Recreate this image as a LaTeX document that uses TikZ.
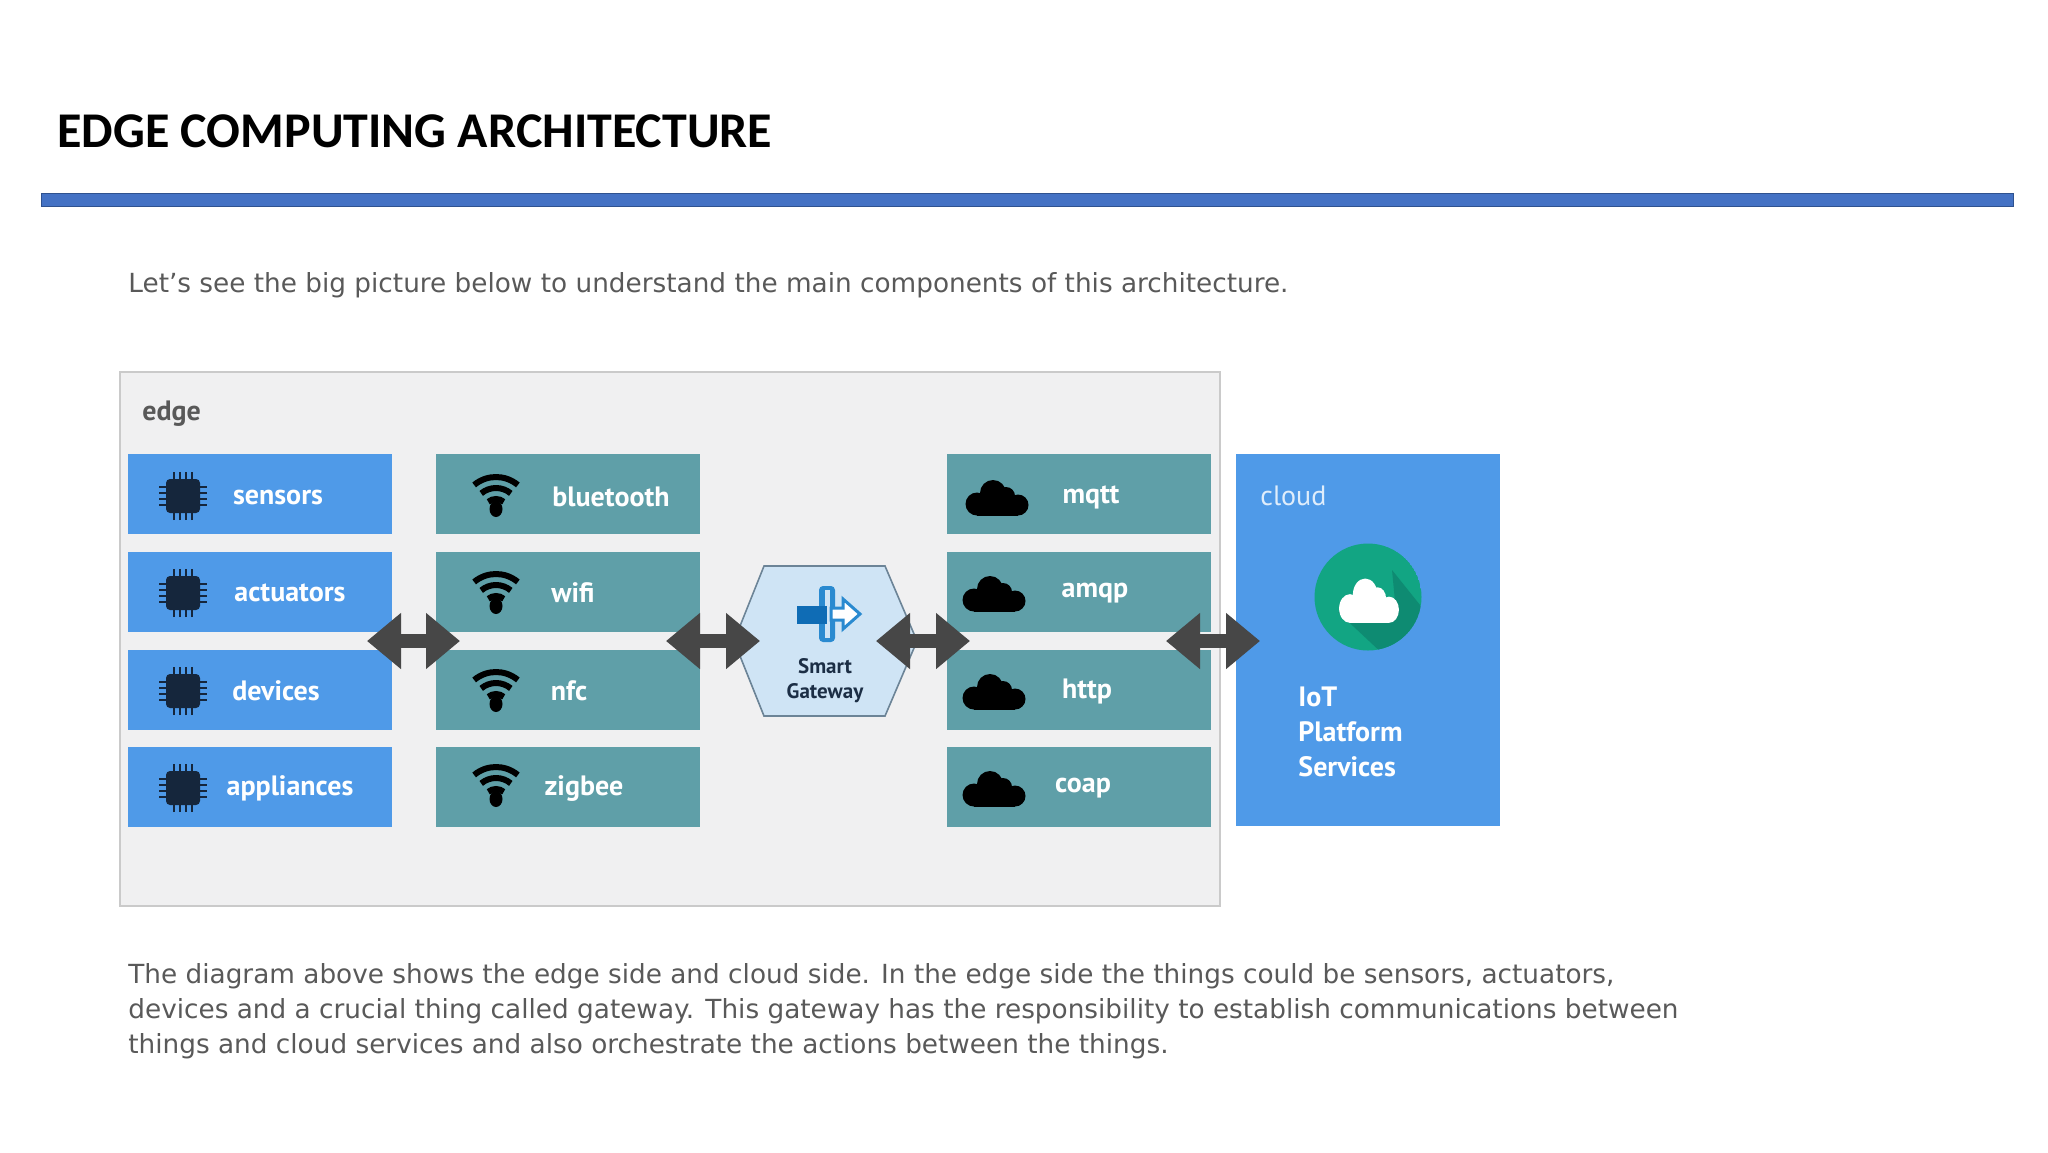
\documentclass[tikz,border=0pt]{standalone}
\usepackage{fontspec}
\setmainfont{DejaVu Sans}
\newfontfamily\titlefont{Carlito}
\newfontfamily\labelfont{PT Sans}
\usetikzlibrary{arrows.meta,shapes.geometric}
\definecolor{boxblue}{HTML}{4F9AE8}
\definecolor{boxteal}{HTML}{5F9FA8}
\definecolor{edgebg}{HTML}{F0F0F1}
\definecolor{edgeline}{HTML}{CACACA}
\definecolor{rulefill}{HTML}{4472C4}
\definecolor{ruleline}{HTML}{2F528F}
\definecolor{bodygrey}{HTML}{595959}
\definecolor{arrowgrey}{HTML}{474747}
\definecolor{chipdark}{HTML}{15263C}
\definecolor{hexfill}{HTML}{CFE4F5}
\definecolor{hexline}{HTML}{6C8497}
\definecolor{navytext}{HTML}{1C2E45}
\definecolor{gwdark}{HTML}{0F6CB5}
\definecolor{gwlight}{HTML}{2A8AD0}
\definecolor{circgreen}{HTML}{12A583}
\definecolor{circdark}{HTML}{0E8B72}
\tikzset{
  bluebox/.style={draw=none,fill=boxblue,minimum width=132pt,minimum height=40pt,inner sep=0pt},
  tealbox/.style={draw=none,fill=boxteal,minimum width=132pt,minimum height=40pt,inner sep=0pt},
  lbl/.style={text=white,font=\labelfont\bfseries\fontsize{14}{16}\selectfont,inner sep=0pt},
  bodyline/.style={anchor=base west,text=bodygrey,font=\fontsize{13.15}{16}\selectfont,inner sep=0pt},
  dblarrow/.style={draw=arrowgrey,line width=7pt,{Triangle[length=17pt,width=27pt,fill=arrowgrey]}-{Triangle[length=17pt,width=27pt,fill=arrowgrey]}},
  chip/.pic={
    \begin{scope}[y=0.5pt]
      \fill[chipdark,rounded corners=2pt] (-16,-16) rectangle (16,16);
      \foreach \t in {-9,-3,3,9}{
        \draw[chipdark,line width=1.1pt] (\t,-24)--(\t,24);
        \draw[chipdark,line width=1.1pt] (-24,\t)--(24,\t);
      }
      \fill[chipdark,rounded corners=2pt] (-17,-17) rectangle (17,17);
    \end{scope}
  },
  wifiicon/.pic={
    \begin{scope}[y=0.5pt]
      \foreach \r in {12,23,34}{
        \draw[black,line width=3pt] (0,-16) ++(50:\r) arc (50:130:\r);
      }
      \fill[black] (0,-14) ellipse (6.5 and 8);
    \end{scope}
  },
  cloudicon/.pic={
    \begin{scope}[y=0.5pt]
      \fill[pic actions] (-4,5) circle (13);
      \fill[pic actions] (-20,-6) circle (11.5);
      \fill[pic actions] (21,-7) circle (10.5);
      \fill[pic actions] (9,2) circle (9);
      \fill[pic actions] (-20,-17.5) rectangle (21,2);
    \end{scope}
  },
  gwicon/.pic={
    \begin{scope}[y=0.5pt]
      \fill[gwlight,rounded corners=2pt] (-10,-28) rectangle (6,28);
      \fill[hexfill] (-4,-24) rectangle (1,24);
      \fill[gwdark] (-32,-10) rectangle (-2,8);
      \draw[gwlight,line width=1.5pt,fill=white] (2,6) -- (14,6) -- (14,15) -- (31,0) -- (14,-15) -- (14,-6) -- (2,-6) -- cycle;
    \end{scope}
  }
}
\begin{document}
\begin{tikzpicture}[x=0.5pt,y=-0.5pt]
\useasboundingbox[fill=white] (0,0) rectangle (2048,1152);
% header
\node[anchor=base west,inner sep=0pt,font=\titlefont\bfseries\fontsize{25}{30}\selectfont,text=black] (title) at (57,147) {EDGE COMPUTING ARCHITECTURE};
\node[draw=ruleline,fill=rulefill,line width=0.8pt,minimum width=986pt,minimum height=6.5pt,inner sep=0pt] (rule) at (1027.5,200) {};
\node[bodyline] (intro) at (128,292) {Let’s see the big picture below to understand the main components of this architecture.};
% edge panel
\node[draw=edgeline,fill=edgebg,line width=1.2pt,minimum width=550pt,minimum height=267pt,inner sep=0pt] (edgepanel) at (670,639) {};
\node[anchor=base west,inner sep=0pt,text=bodygrey,font=\labelfont\bfseries\fontsize{14}{16}\selectfont] (edgelbl) at (142,420) {edge};
% col 1
\node[bluebox] (b1) at (260,494) {};
\node[bluebox] (b2) at (260,592) {};
\node[bluebox] (b3) at (260,690) {};
\node[bluebox] (b4) at (260,787) {};
\pic at (183,496) {chip};
\pic at (183,593) {chip};
\pic at (183,691) {chip};
\pic at (183,788) {chip};
\node[lbl] (l1) at (278,497) {sensors};
\node[lbl] (l2) at (290,593) {actuators};
\node[lbl] (l3) at (276,691) {devices};
\node[lbl] (l4) at (290,788) {appliances};
% col 2
\node[tealbox] (t1) at (568,494) {};
\node[tealbox] (t2) at (568,592) {};
\node[tealbox] (t3) at (568,690) {};
\node[tealbox] (t4) at (568,787) {};
\pic at (496,495) {wifiicon};
\pic at (496,592) {wifiicon};
\pic at (496,690) {wifiicon};
\pic at (496,785) {wifiicon};
\node[lbl] (n1) at (611,497) {bluetooth};
\node[lbl] (n2) at (573,593) {wifi};
\node[lbl] (n3) at (569,691) {nfc};
\node[lbl] (n4) at (584,788) {zigbee};
% col 3
\node[tealbox] (p1) at (1079,494) {};
\node[tealbox] (p2) at (1079,592) {};
\node[tealbox] (p3) at (1079,690) {};
\node[tealbox] (p4) at (1079,787) {};
\pic[fill=black] at (997,498) {cloudicon};
\pic[fill=black] at (994,594) {cloudicon};
\pic[fill=black] at (994,692) {cloudicon};
\pic[fill=black] at (994,789) {cloudicon};
\node[lbl] (m1) at (1091,497) {mqtt};
\node[lbl] (m2) at (1095,593) {amqp};
\node[lbl] (m3) at (1087,691) {http};
\node[lbl] (m4) at (1083,788) {coap};
% cloud panel
\node[fill=boxblue,minimum width=132pt,minimum height=186pt,inner sep=0pt] (cloudpanel) at (1368,640) {};
\node[anchor=base west,inner sep=0pt,text=white!82!boxblue,font=\labelfont\fontsize{14}{16}\selectfont] (cloudlbl) at (1260,505) {cloud};
\begin{scope}
  \clip (1368,597) circle (53.5);
  \fill[circgreen] (1368,597) circle (53.5);
  \fill[circdark] (1338,612) -- (1396,612) -- (1392,570) -- (1440,630) -- (1400,670) -- cycle;
\end{scope}
\pic[fill=white,yscale=1.25,xscale=0.95] at (1369,601) {cloudicon};
\node[anchor=base west,inner sep=0pt,text=white,font=\labelfont\bfseries\fontsize{14}{16}\selectfont] (iot1) at (1298,706) {IoT};
\node[anchor=base west,inner sep=0pt,text=white,font=\labelfont\bfseries\fontsize{14}{16}\selectfont] (iot2) at (1298,741) {Platform};
\node[anchor=base west,inner sep=0pt,text=white,font=\labelfont\bfseries\fontsize{14}{16}\selectfont] (iot3) at (1298,776) {Services};
% gateway
\node[regular polygon,regular polygon sides=6,draw=none,minimum size=10pt] (dummyhex) at (825,640) {};
\path[draw=hexline,fill=hexfill,line width=0.8pt] (764,566) coordinate (h1) -- (885,566) coordinate (h2) -- (917,641) coordinate (h3) -- (885,716) coordinate (h4) -- (764,716) coordinate (h5) -- (734,641) coordinate (h6) -- cycle;
\pic at (829,614) {gwicon};
\node[inner sep=0pt,text=navytext,font=\labelfont\bfseries\fontsize{10.5}{12}\selectfont,anchor=base] (gw1) at (825,673) {Smart};
\node[inner sep=0pt,text=navytext,font=\labelfont\bfseries\fontsize{10.5}{12}\selectfont,anchor=base] (gw2) at (825,698) {Gateway};
% arrows
\coordinate (a1l) at (367,641);
\coordinate (a1r) at (460,641);
\coordinate (a2l) at (666,641);
\coordinate (a2r) at (760,641);
\coordinate (a3l) at (876,641);
\coordinate (a3r) at (970,641);
\coordinate (a4l) at (1166,641);
\coordinate (a4r) at (1260,641);
\draw[dblarrow] (a1l) -- (a1r);
\draw[dblarrow] (a2l) -- (a2r);
\draw[dblarrow] (a3l) -- (a3r);
\draw[dblarrow] (a4l) -- (a4r);
% closing text
\node[bodyline] (para1) at (128,983) {The diagram above shows the edge side and cloud side. In the edge side the things could be sensors, actuators,};
\node[bodyline] (para2) at (128,1018) {devices and a crucial thing called gateway. This gateway has the responsibility to establish communications between};
\node[bodyline] (para3) at (128,1053) {things and cloud services and also orchestrate the actions between the things.};
\end{tikzpicture}
\end{document}
